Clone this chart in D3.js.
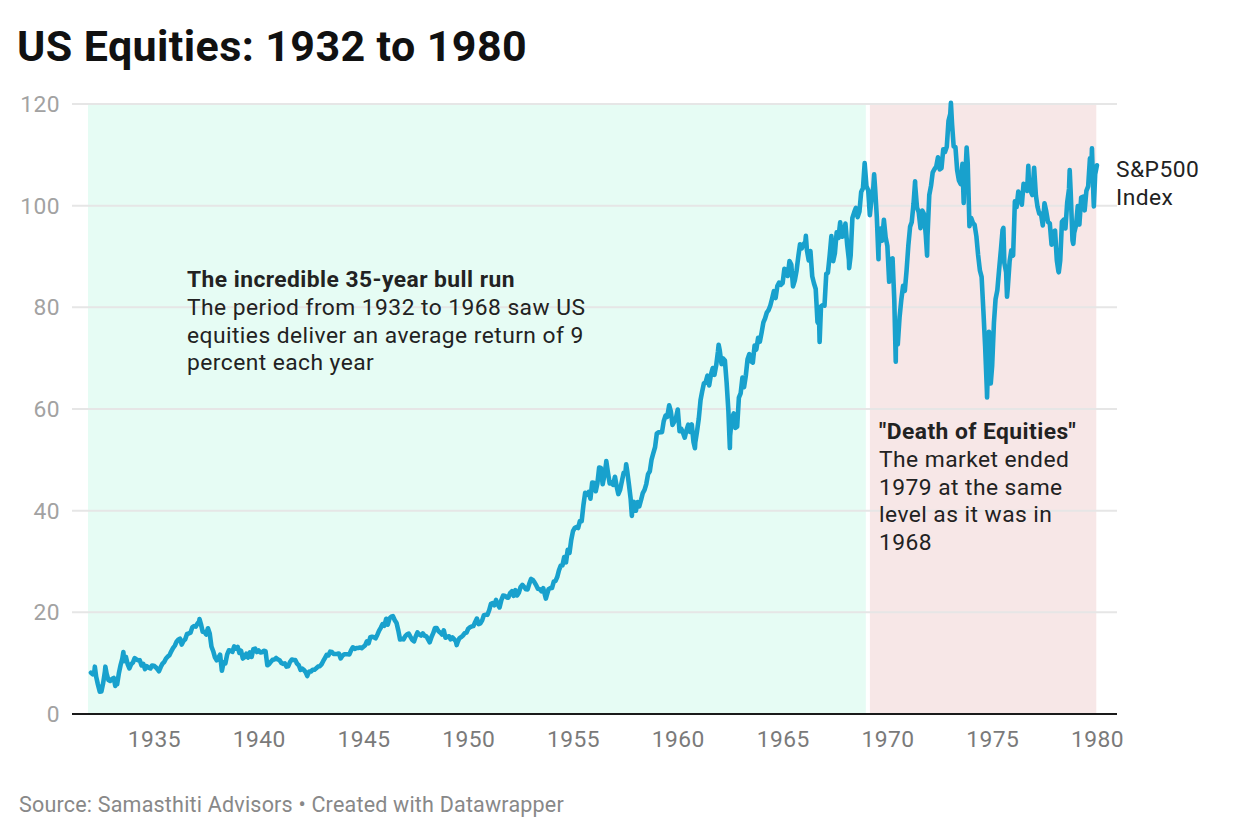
<!DOCTYPE html>
<html><head><meta charset="utf-8">
<script src="https://cdn.jsdelivr.net/npm/d3@7/dist/d3.min.js"></script>
<style>body{margin:0;background:#fff} text{font-family:Roboto,"Noto Sans",sans-serif}</style>
</head><body><svg id="chart" width="1240" height="840"></svg>
<script>
// Month-end S&P 500 closes, starting with Dec 1931, then Jan 1932 ... Dec 1979
const monthlyClose = [
 8.12,
 7.82, 8.39, 7.31, 5.83, 4.47, 4.43, 6.10, 8.39, 7.89, 6.68, 6.49, 6.89,
 7.09, 5.66, 5.85, 7.96, 9.64, 10.91, 10.39, 11.23, 9.83, 8.96, 9.78, 10.10,
 11.00, 10.74, 10.56, 10.59, 9.55, 9.87, 8.82, 9.40, 9.10, 8.95, 9.55, 9.50,
 9.24, 8.86, 8.41, 9.24, 9.91, 10.23, 10.92, 11.29, 11.58, 12.34, 12.95, 13.43,
 14.20, 14.60, 14.82, 13.66, 14.37, 14.69, 15.73, 15.83, 16.00, 17.04, 17.29, 17.18,
 17.81, 18.20, 17.68, 16.18, 16.12, 15.63, 16.87, 15.85, 13.29, 12.35, 11.13, 10.55,
 11.12, 11.65, 8.50, 10.18, 9.98, 11.67, 12.54, 12.43, 12.21, 13.30, 12.88, 13.21,
 12.00, 12.44, 10.91, 11.17, 11.86, 11.09, 12.13, 11.23, 12.76, 12.86, 12.20, 12.49,
 12.09, 12.15, 12.44, 12.36, 9.58, 9.83, 10.27, 10.65, 10.73, 11.02, 10.74, 10.58,
 10.05, 9.87, 9.95, 9.32, 9.40, 10.23, 10.71, 10.61, 10.60, 9.92, 9.59, 8.69,
 8.93, 8.65, 8.21, 7.66, 8.33, 8.37, 8.70, 8.72, 9.01, 9.33, 9.39, 9.77,
 10.43, 10.99, 11.64, 11.51, 12.26, 12.18, 11.79, 11.80, 11.85, 11.91, 10.94, 11.45,
 11.74, 11.74, 11.76, 11.71, 12.56, 13.12, 12.82, 12.97, 12.99, 13.08, 12.95, 13.24,
 13.54, 14.30, 13.90, 15.10, 15.20, 15.10, 14.90, 15.60, 16.40, 17.00, 17.70, 17.36,
 18.74, 17.56, 18.82, 19.13, 19.17, 18.43, 17.89, 16.40, 14.65, 14.75, 14.69, 15.30,
 15.66, 15.80, 15.17, 14.60, 14.28, 15.24, 16.04, 15.63, 15.44, 15.87, 15.40, 15.30,
 14.69, 14.10, 15.15, 15.90, 16.93, 16.91, 16.28, 16.01, 15.62, 16.45, 15.00, 15.20,
 15.28, 14.70, 15.05, 14.73, 14.25, 14.16, 14.92, 15.13, 15.44, 15.90, 16.00, 16.76,
 17.05, 17.22, 17.29, 18.07, 18.78, 17.69, 17.84, 18.42, 19.45, 19.53, 19.51, 20.41,
 21.66, 21.80, 21.40, 22.43, 21.52, 20.96, 22.40, 23.28, 23.26, 22.94, 22.88, 23.77,
 24.14, 23.26, 24.37, 23.32, 23.86, 24.96, 25.40, 25.03, 24.54, 24.52, 25.66, 26.57,
 26.38, 25.90, 25.29, 24.62, 24.54, 24.14, 24.75, 23.32, 23.35, 24.54, 24.76, 24.81,
 26.08, 26.15, 26.94, 28.26, 29.19, 29.21, 30.88, 29.83, 32.31, 31.68, 34.24, 35.98,
 36.63, 36.76, 36.58, 37.96, 37.91, 41.03, 43.52, 43.18, 43.67, 42.34, 45.51, 45.48,
 43.82, 45.34, 48.48, 48.38, 45.20, 46.97, 49.39, 47.51, 45.35, 45.58, 45.08, 46.67,
 44.72, 43.26, 44.11, 45.74, 47.43, 47.37, 47.91, 45.22, 42.42, 41.06, 41.72, 39.99,
 41.70, 40.84, 42.10, 43.44, 44.09, 45.24, 47.19, 47.75, 50.06, 51.33, 52.48, 55.21,
 55.42, 55.41, 55.44, 57.59, 58.68, 58.47, 60.51, 59.60, 56.88, 57.52, 58.28, 59.89,
 55.61, 56.12, 55.34, 54.37, 55.83, 56.92, 55.51, 56.96, 53.52, 53.39, 55.54, 58.11,
 61.78, 63.44, 65.06, 65.31, 66.56, 64.64, 66.76, 68.07, 66.73, 68.62, 71.32, 71.55,
 68.84, 69.96, 69.55, 65.24, 59.63, 54.75, 58.23, 59.12, 56.27, 56.52, 62.26, 63.10,
 66.20, 64.29, 66.57, 69.80, 70.80, 69.37, 69.13, 72.50, 71.70, 74.01, 73.23, 75.02,
 77.04, 77.80, 78.98, 79.46, 80.37, 81.69, 83.18, 81.83, 84.18, 84.86, 84.42, 84.75,
 87.56, 87.43, 86.16, 89.11, 88.42, 84.12, 85.25, 87.17, 89.96, 92.42, 91.61, 92.43,
 92.88, 91.22, 89.23, 91.06, 86.13, 84.74, 83.60, 77.10, 76.56, 80.20, 80.45, 80.33,
 86.61, 86.78, 90.20, 94.01, 89.08, 90.64, 94.75, 93.64, 96.71, 93.90, 94.00, 96.47,
 92.24, 89.36, 90.20, 97.59, 98.68, 99.58, 97.74, 98.86, 102.67, 103.41, 108.37, 103.86,
 103.01, 98.13, 101.51, 103.69, 103.46, 97.71, 91.83, 95.51, 93.12, 97.24, 93.81, 92.06,
 85.02, 89.50, 89.63, 81.52, 76.55, 72.72, 78.05, 81.52, 84.21, 83.25, 87.20, 92.15,
 95.88, 96.75, 100.31, 103.95, 99.63, 98.70, 95.58, 99.03, 98.34, 94.23, 93.99, 102.09,
 103.94, 106.57, 107.20, 107.67, 109.53, 107.14, 107.39, 111.09, 110.55, 111.58, 116.67, 118.05,
 116.03, 111.68, 111.52, 106.97, 104.95, 104.26, 108.22, 104.25, 108.43, 108.29, 95.96, 97.55,
 96.57, 96.22, 93.98, 90.31, 87.28, 86.00, 79.31, 72.15, 63.54, 73.90, 69.97, 68.56,
 76.98, 81.59, 83.36, 87.30, 91.15, 95.19, 88.75, 86.88, 83.87, 89.04, 91.24, 90.19,
 100.86, 99.71, 102.77, 101.64, 100.18, 104.28, 103.44, 102.91, 105.24, 102.90, 102.10, 107.46,
 102.03, 99.82, 98.42, 98.44, 96.12, 100.48, 98.85, 96.77, 96.53, 92.34, 94.83, 95.10,
 89.25, 87.04, 89.21, 96.83, 97.24, 95.53, 100.68, 103.29, 102.54, 93.15, 94.70, 96.11,
 99.93, 96.28, 101.59, 101.76, 99.08, 102.91, 103.81, 109.32, 109.32, 101.82, 106.16, 107.94
];
// Intra-month highs and lows visible in the chart
const extremeDates = ["1932-03-08","1932-06-01","1932-09-07","1933-02-27","1933-07-18","1937-03-06","1938-03-31",
 "1942-04-28","1946-05-29","1949-06-13","1953-09-14","1956-08-02","1957-07-15","1957-10-22","1959-08-03",
 "1960-10-25","1961-12-12","1962-06-26","1966-02-09","1966-10-07","1968-03-05","1969-05-14","1969-07-29",
 "1970-05-26","1971-04-28","1971-11-23","1973-01-11","1973-08-22","1973-10-12","1974-10-03","1974-11-05",
 "1974-12-06","1975-07-15","1975-09-16","1976-09-21","1978-03-06","1978-09-12","1978-11-14","1979-10-05","1979-11-07"];
const extremeValues = [9.31,4.40,9.31,5.53,12.20,18.68,8.50,
 7.47,19.25,13.55,22.71,49.74,49.13,38.98,60.71,
 52.30,72.64,52.32,94.06,73.20,87.72,106.16,89.48,
 69.29,104.77,90.16,120.24,100.53,111.44,62.28,75.21,
 65.01,95.61,82.09,107.83,86.90,106.99,92.49,111.27,99.87];

const yTicks = [0, 20, 40, 60, 80, 100, 120];
const xTickYears = [1935, 1940, 1945, 1950, 1955, 1960, 1965, 1970, 1975, 1980];
const periodStart = ["1931-11-10", "1969-03-01"];
const periodEnd = ["1968-12-20", "1979-12-20"];
const periodColors = ["#e6fcf4", "#f7e7e7"];
const bullTitle = "The incredible 35-year bull run";
const bullLines = ["The period from 1932 to 1968 saw US", "equities deliver an average return of 9", "percent each year"];
const deathTitle = "\"Death of Equities\"";
const deathLines = ["The market ended", "1979 at the same", "level as it was in", "1968"];
const seriesLabel = ["S&P500", "Index"];

const parse = d3.timeParse("%Y-%m-%d");
const data = monthlyClose.map((v, i) => ({date: new Date(1932, i, 0), value: v}))
  .concat(extremeDates.map((d, i) => ({date: parse(d), value: extremeValues[i]})))
  .sort((a, b) => a.date - b.date);

const svg = d3.select("#chart");
const x = d3.scaleTime().domain([new Date(1932,0,1), new Date(1980,0,1)]).range([91, 1097]);
const y = d3.scaleLinear().domain([0, 120]).range([714, 104]);
const left = 72, right = 1117;
const FS = 22.8, LS = "0.45px";

// shaded periods
svg.selectAll("rect.period").data(periodStart).join("rect")
  .attr("x", (d) => x(parse(d)))
  .attr("width", (d, i) => x(parse(periodEnd[i])) - x(parse(d)))
  .attr("y", y(120)).attr("height", y(0) - y(120))
  .attr("fill", (d, i) => periodColors[i]);

// gridlines
svg.append("g").selectAll("line").data(yTicks.filter(t => t > 0)).join("line")
  .attr("x1", left).attr("x2", right)
  .attr("y1", d => y(d)).attr("y2", d => y(d))
  .attr("stroke", "#e6e6e6").attr("stroke-width", 2);

// y labels
svg.append("g").selectAll("text").data(yTicks).join("text")
  .attr("x", 60).attr("y", d => y(d)).attr("dy", "0.35em")
  .attr("text-anchor", "end").attr("font-size", FS).attr("fill", "#a2a2a2")
  .style("letter-spacing", LS)
  .text(d => d);

// line
svg.append("path").datum(data)
  .attr("fill", "none").attr("stroke", "#18a1cd").attr("stroke-width", 4.6)
  .attr("stroke-linejoin", "round").attr("stroke-linecap", "round")
  .attr("d", d3.line().x(d => x(d.date)).y(d => y(d.value)));

// x axis
const xAxis = d3.axisBottom(x)
  .tickValues(xTickYears.map(yr => new Date(yr, 0, 1)))
  .tickFormat(d3.timeFormat("%Y")).tickSize(0).tickPadding(17);
const gx = svg.append("g").attr("transform", `translate(0,${y(0)})`).call(xAxis);
gx.select(".domain").remove();
gx.selectAll("text").attr("font-size", FS).attr("fill", "#7a7a7a")
  .style("font-family", "Roboto").style("letter-spacing", LS);
svg.append("line").attr("x1", left).attr("x2", right).attr("y1", y(0)).attr("y2", y(0))
  .attr("stroke", "#1a1a1a").attr("stroke-width", 2);

// title
svg.append("text").attr("x", 17).attr("y", 61).attr("font-size", 43).attr("font-weight", 700)
  .attr("fill", "#111").style("letter-spacing", "0.4px").text("US Equities: 1932 to 1980");

// annotations
function block(xp, yp, title, lines) {
  const t = svg.append("text").attr("x", xp).attr("y", yp).attr("font-size", FS)
    .attr("fill", "#222").style("letter-spacing", LS);
  t.append("tspan").attr("x", xp).attr("font-weight", 700).text(title);
  lines.forEach((l) => t.append("tspan").attr("x", xp).attr("dy", 27.8).text(l));
}
block(187, 287, bullTitle, bullLines);
block(879, 439, deathTitle, deathLines);

const sl = svg.append("text").attr("x", 1116).attr("y", 177).attr("font-size", FS)
  .attr("fill", "#222").style("letter-spacing", LS);
seriesLabel.forEach((l, i) => sl.append("tspan").attr("x", 1116).attr("dy", i ? 27.7 : 0).text(l));

svg.append("text").attr("x", 19).attr("y", 812).attr("font-size", 21.5).attr("fill", "#888")
  .style("letter-spacing", "0.2px")
  .text("Source: Samasthiti Advisors • Created with Datawrapper");
</script></body></html>
